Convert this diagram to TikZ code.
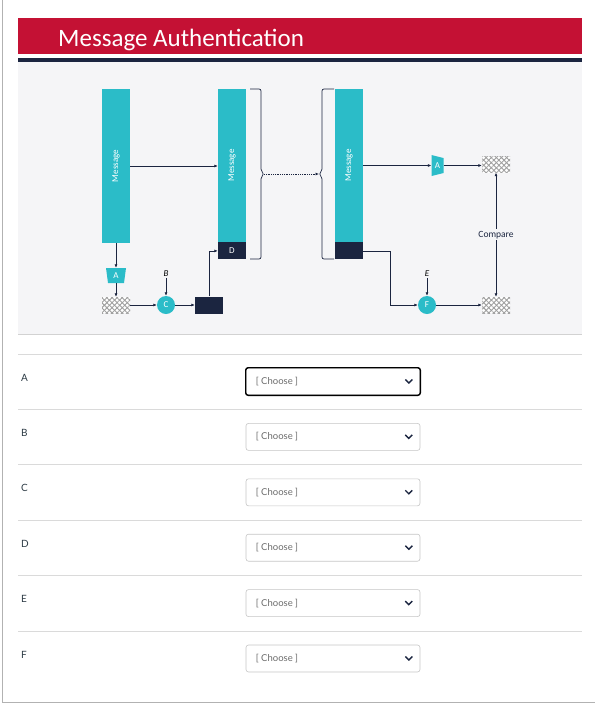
\documentclass[tikz,border=0pt]{standalone}
\usepackage{fontspec}
\setmainfont{Carlito}
\newfontfamily\formfont{Lato}
\usepackage{xcolor}
\usepackage{tikz}
\usetikzlibrary{calc, positioning, arrows.meta, patterns.meta}

\definecolor{msgteal}{HTML}{2BBCC8}
\definecolor{inkblue}{HTML}{1B2540}
\definecolor{titlered}{HTML}{C41134}
\definecolor{panelbg}{HTML}{F5F5F7}
\definecolor{rulegray}{HTML}{DADADA}
\definecolor{labelink}{HTML}{2D3B45}

\begin{document}
\begin{tikzpicture}[x=1pt, y=-1pt, >={Latex[length=3.5pt,width=3pt]},
    msgbar/.style={fill=msgteal, minimum width=28, inner sep=0},
    keybox/.style={fill=inkblue, minimum width=28, minimum height=17, inner sep=0,
        text=white, font=\fontsize{9}{10}\selectfont},
    hashbox/.style={minimum width=28, minimum height=16, inner sep=0, fill=white,
        postaction={pattern={Lines[angle=45, distance=3.6pt, line width=0.9pt]}, pattern color=gray!75},
        postaction={pattern={Lines[angle=-45, distance=3.6pt, line width=0.9pt]}, pattern color=gray!75}},
    fnode/.style={circle, fill=msgteal, minimum size=18, inner sep=0,
        text=white, font=\fontsize{9}{10}\selectfont},
    keylabel/.style={inner sep=1pt, font=\itshape\fontsize{9}{10}\selectfont},
    flow/.style={->, draw=inkblue, line width=0.6pt},
    bracket/.style={draw=inkblue, line width=0.7pt, rounded corners=2pt},
    rowlabel/.style={inner sep=0, text=labelink, font=\formfont\fontsize{10}{12}\selectfont},
    choosebox/.style={draw=gray!45, fill=white, rounded corners=2.5pt, line width=0.6pt,
        minimum width=174, minimum height=27, inner sep=0},
    choosetext/.style={inner sep=0, text=gray!85!black, font=\formfont\fontsize{9.5}{11}\selectfont}]
    \useasboundingbox (0,0) rectangle (595,710);

    % page frame
    \draw[gray!60, line width=1pt] (2.7,0) -- (2.7,702) -- (595,702);

    % title bar
    \fill[titlered] (18,18) rectangle (582,54);
    \fill[inkblue] (18,58) rectangle (582,62);
    \node[anchor=base west, inner sep=0, text=white, font=\fontsize{25}{30}\selectfont]
        (title) at (58,46) {Message Authentication};

    % diagram panel
    \fill[panelbg] (18,62) rectangle (582,334);
    \draw[gray!35, line width=0.6pt] (18,334) -- (582,334);

    % message blocks
    \node[msgbar, minimum height=154, label={[rotate=90, text=white,
        font=\fontsize{9}{10}\selectfont]center:Message}] (msgA) at (116,166) {};
    \node[msgbar, minimum height=153, label={[rotate=90, text=white,
        font=\fontsize{9}{10}\selectfont]center:Message}] (msgB) at (232,165.5) {};
    \node[keybox, below=0pt of msgB] (keyD) {D};
    \node[msgbar, minimum height=153, label={[rotate=90, text=white,
        font=\fontsize{9}{10}\selectfont]center:Message}] (msgC) at (349,165.5) {};
    \node[keybox, below=0pt of msgC] (keyDC) {};

    % sender side
    \node[minimum width=20, minimum height=15, inner sep=0, text=white,
        font=\fontsize{9}{10}\selectfont,
        path picture={\fill[msgteal] (path picture bounding box.north west)
            -- (path picture bounding box.north east)
            -- ([xshift=-2pt]path picture bounding box.south east)
            -- ([xshift=2pt]path picture bounding box.south west) -- cycle;}]
        (hashA) at (116,275.5) {A};
    \node[hashbox] (hA) at (116,305) {};
    \node[fnode] (circC) at (166,305) {C};
    \node[keylabel] (keyB) at (166,274) {B};
    \node[fill=inkblue, minimum width=28, minimum height=17, inner sep=0] (blk) at (209,305) {};

    \draw[flow] (msgA.east) -- (msgA.east -| msgB.west);
    \draw[flow] (msgA.south) -- (hashA.north);
    \draw[flow] (hashA.south) -- (hA.north);
    \draw[flow] (hA.east) -- (circC.west);
    \draw[flow] (keyB.south) -- (circC.north);
    \draw[flow] (circC.east) -- (blk.west);
    \draw[flow] (blk.north) |- (keyD.west);

    % transfer
    \coordinate (tipB) at (264,174);
    \coordinate (tipC) at (319,174);
    \draw[bracket] (250,89) -- (261,89) -- (261,171) -- (tipB) -- (261,177) -- (261,259) -- (250,259);
    \draw[bracket] (334,89) -- (322,89) -- (322,171) -- (tipC) -- (322,177) -- (322,259) -- (334,259);
    \draw[->, draw=inkblue, line width=0.8pt, densely dotted] (tipB) -- (tipC);

    % receiver side
    \node[minimum width=12, minimum height=21, inner sep=0, text=white,
        font=\fontsize{9}{10}\selectfont,
        path picture={\fill[msgteal] (path picture bounding box.north west)
            -- ([yshift=-3pt]path picture bounding box.north east)
            -- ([yshift=3pt]path picture bounding box.south east)
            -- (path picture bounding box.south west) -- cycle;}]
        (hashAA) at (437.5,165.5) {A};
    \node[hashbox] (hB) at (496,164.5) {};
    \node[hashbox] (hC) at (496,305) {};
    \node[fnode] (circF) at (427,305) {F};
    \node[keylabel] (keyE) at (427,274) {E};

    \draw[flow] (msgC.east |- hashAA.west) -- (hashAA.west);
    \draw[flow] (hashAA.east) -- (hashAA.east -| hB.west);
    \draw[flow] (keyDC.east) -- ++(27,0) |- (circF.west);
    \draw[flow] (keyE.south) -- (circF.north);
    \draw[flow] (circF.east) -- (hC.west);
    \draw[<->, draw=inkblue, line width=0.6pt] (hC.north) -- node[fill=panelbg, inner sep=1.5pt,
        text=inkblue, font=\fontsize{9.5}{11}\selectfont] (cmp) {Compare} (hB.south);

    % answer rows
    \foreach \l [count=\i from 0] in {A,B,C,D,E,F}{
        \coordinate (row\l) at (18, 354+55.4*\i);
        \draw[rulegray, line width=0.7pt] (row\l) -- ++(564,0);
        \node[rowlabel, anchor=west] (lab\l) at (21, 377.5+55.4*\i) {\l};
        \node[choosebox] (box\l) at (333, 381.5+55.4*\i) {};
        \node[choosetext, anchor=west] (txt\l) at ($(box\l.west)+(10,0)$) {[ Choose ]};
        \draw[inkblue, line width=1.4pt] ($(box\l.east)+(-15,-2)$) -- ++(3.5,3.5) -- ++(3.5,-3.5);
    }
    \draw[black, line width=1.4pt, rounded corners=2.5pt] (boxA.north west) rectangle (boxA.south east);
\end{tikzpicture}
\end{document}
